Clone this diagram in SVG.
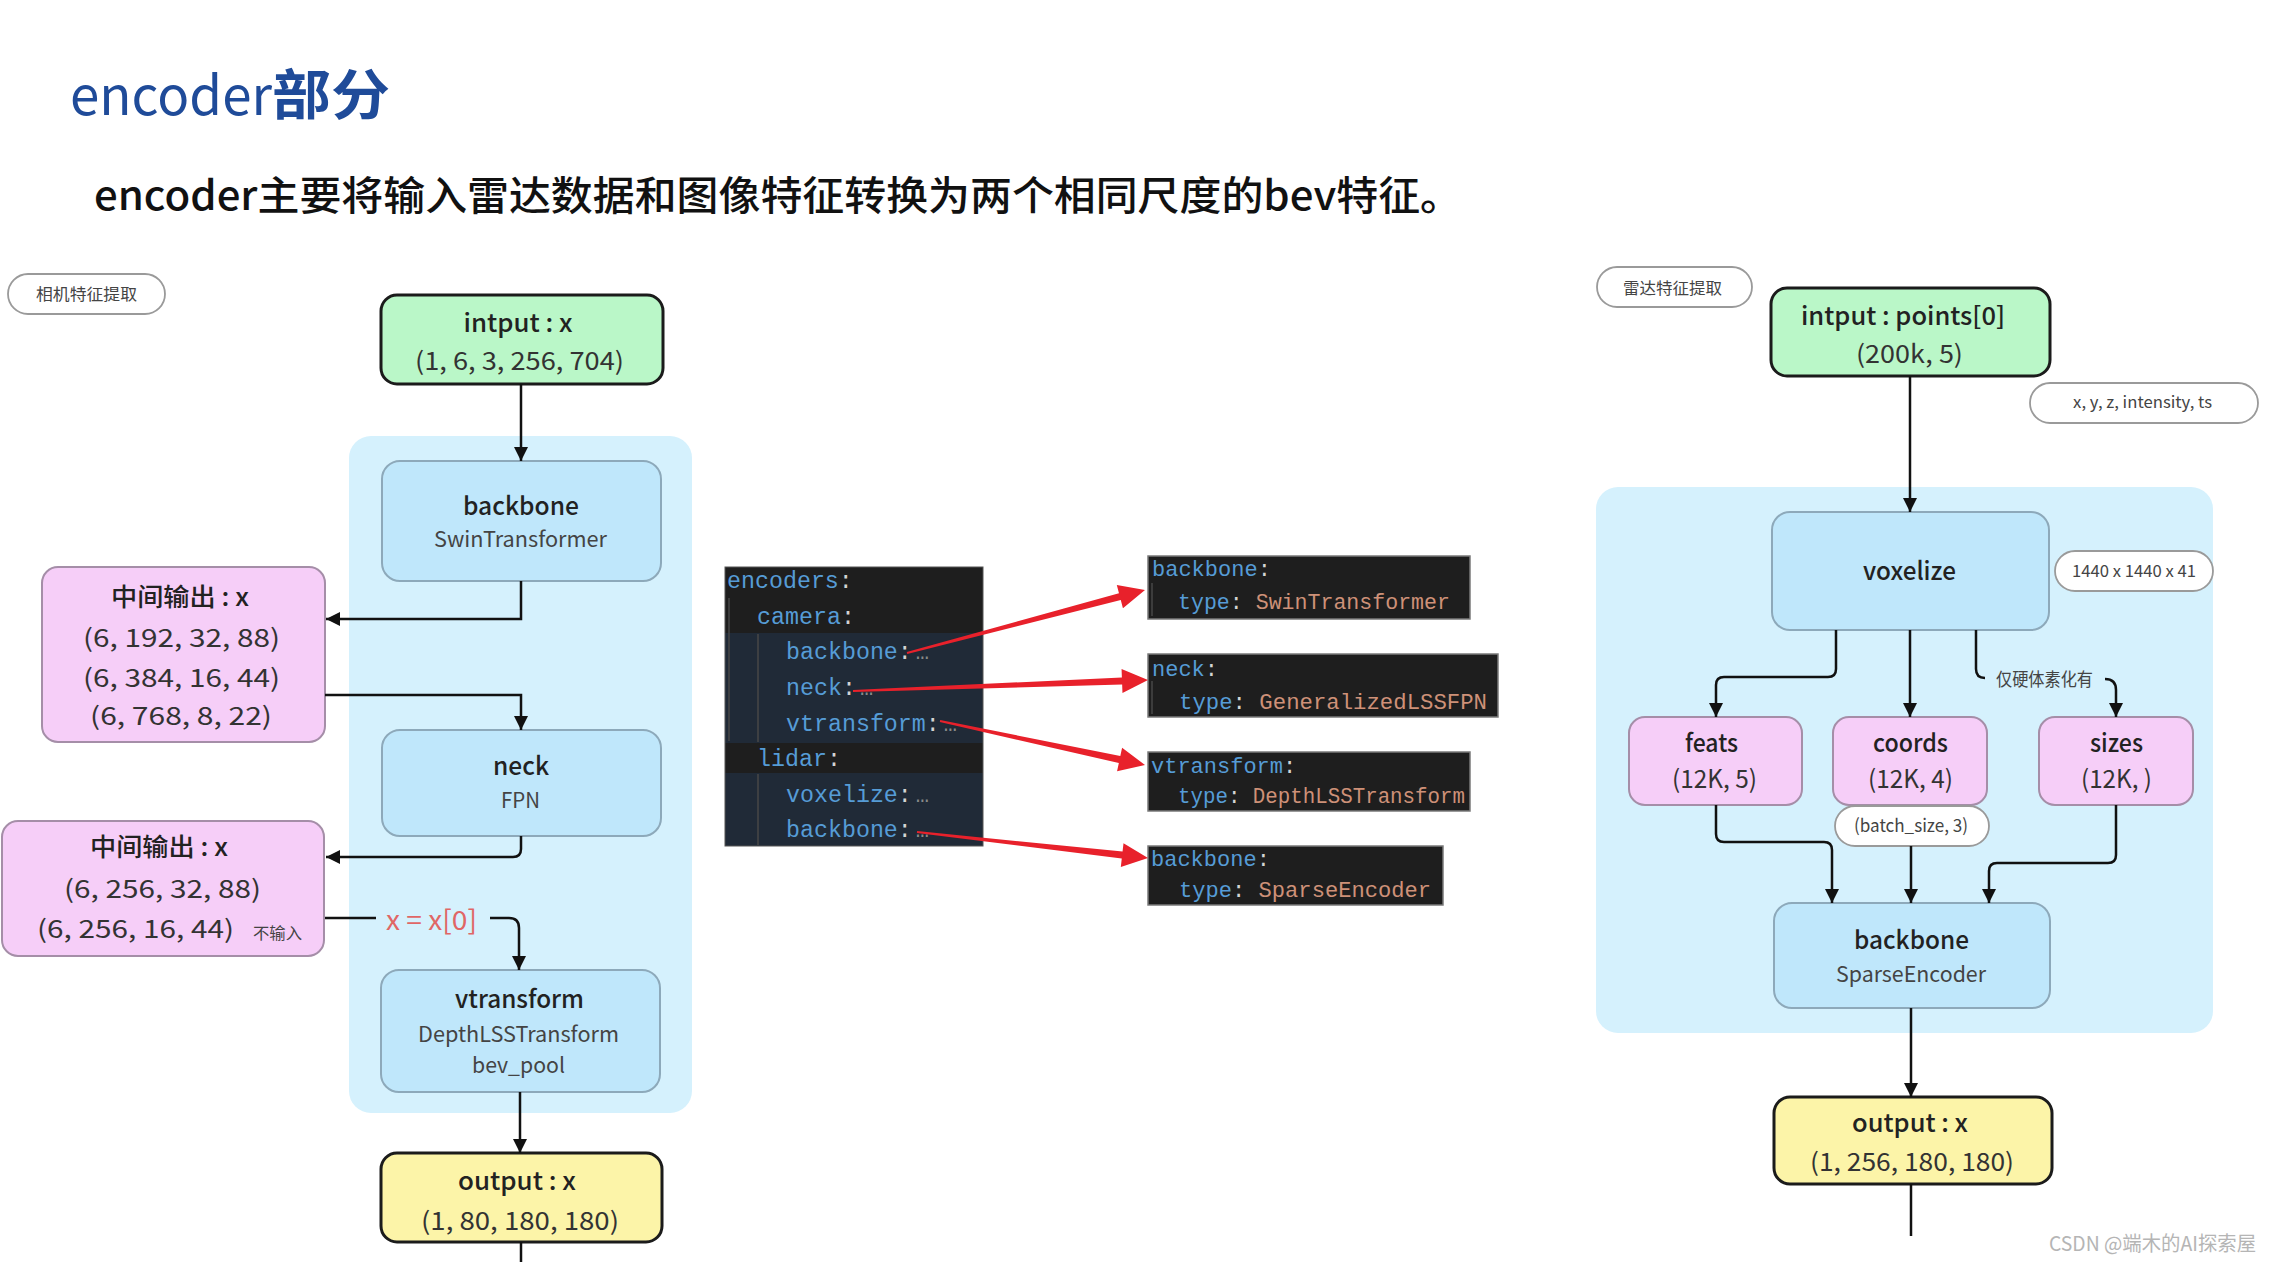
<svg xmlns="http://www.w3.org/2000/svg" width="2270" height="1262" viewBox="0 0 2270 1262">
<style>
.t{font-family:"Noto Sans CJK SC","Noto Sans",sans-serif}
.bg{fill:#d5f1fd}
.blue{fill:#bfe7fb;stroke:#8da9ba;stroke-width:2}
.pink{fill:#f6cef8;stroke:#a58ea8;stroke-width:2}
.green{fill:#baf7c8;stroke:#1b1b1b;stroke-width:3}
.yellow{fill:#fcf4a8;stroke:#1b1b1b;stroke-width:3}
.pill{fill:#fff;stroke:#9a9a9a;stroke-width:1.8}
.conn{fill:none;stroke:#111;stroke-width:2.5}
.hd{font-size:25px;font-weight:500;fill:#222}
.sub{font-size:21px;fill:#444}
.tp{font-size:25px;fill:#333}
.pl{font-size:16px;fill:#444}
.code{font-family:"Liberation Mono","DejaVu Sans Mono",monospace}
.k{fill:#569cd6}.c{fill:#d4d4d4}.v{fill:#ce9178}.e{fill:#8a8a8a}
.red{fill:#e8212b}
.guide{stroke:#474747;stroke-width:1.5}
</style>
<defs>
<marker id="ah" viewBox="0 0 10 10" refX="10" refY="5" markerWidth="14" markerHeight="14" markerUnits="userSpaceOnUse" orient="auto">
<path d="M0,0 L10,5 L0,10 z" fill="#111"/>
</marker>
</defs>
<rect width="2270" height="1262" fill="#fff"/>

<!-- titles -->
<text class="t" x="70" y="115" font-size="54" fill="#1f4b99"><tspan textLength="202" lengthAdjust="spacingAndGlyphs">encoder</tspan><tspan font-weight="bold" textLength="118" lengthAdjust="spacingAndGlyphs">部分</tspan></text>
<text class="t" x="94" y="210" font-size="40" font-weight="500" fill="#111" textLength="1368" lengthAdjust="spacingAndGlyphs">encoder主要将输入雷达数据和图像特征转换为两个相同尺度的bev特征。</text>

<!-- backgrounds -->
<rect class="bg" x="349" y="436" width="343" height="677" rx="22"/>
<rect class="bg" x="1596" y="487" width="617" height="546" rx="22"/>

<!-- left diagram nodes -->
<g id="cam-label">
<rect class="pill" x="8" y="274" width="157" height="40" rx="20"/>
<text class="t pl" x="86.5" y="300" text-anchor="middle" textLength="101" lengthAdjust="spacingAndGlyphs">相机特征提取</text>
</g>
<g id="cam-input">
<rect class="green" x="381" y="295" width="282" height="89" rx="16"/>
<text class="t hd" x="518" y="332" text-anchor="middle" textLength="109" lengthAdjust="spacingAndGlyphs">intput : x</text>
<text class="t tp" x="519.5" y="370" text-anchor="middle" textLength="209" lengthAdjust="spacingAndGlyphs">(1, 6, 3, 256, 704)</text>
</g>
<g id="cam-backbone">
<rect class="blue" x="382" y="461" width="279" height="120" rx="18"/>
<text class="t hd" x="521" y="515" text-anchor="middle" textLength="116" lengthAdjust="spacingAndGlyphs">backbone</text>
<text class="t sub" x="520.5" y="547" text-anchor="middle" textLength="173" lengthAdjust="spacingAndGlyphs">SwinTransformer</text>
</g>
<g id="mid-out-1">
<rect class="pink" x="42" y="567" width="283" height="175" rx="16"/>
<text class="t hd" x="180" y="606" text-anchor="middle" textLength="138" lengthAdjust="spacingAndGlyphs">中间输出 : x</text>
<text class="t tp" x="181.5" y="647" text-anchor="middle" textLength="197" lengthAdjust="spacingAndGlyphs">(6, 192, 32, 88)</text>
<text class="t tp" x="181.5" y="687" text-anchor="middle" textLength="197" lengthAdjust="spacingAndGlyphs">(6, 384, 16, 44)</text>
<text class="t tp" x="181" y="725" text-anchor="middle" textLength="182" lengthAdjust="spacingAndGlyphs">(6, 768, 8, 22)</text>
</g>
<g id="cam-neck">
<rect class="blue" x="382" y="730" width="279" height="106" rx="18"/>
<text class="t hd" x="521" y="775" text-anchor="middle" textLength="56" lengthAdjust="spacingAndGlyphs">neck</text>
<text class="t sub" x="520.5" y="808" text-anchor="middle" textLength="39" lengthAdjust="spacingAndGlyphs">FPN</text>
</g>
<g id="mid-out-2">
<rect class="pink" x="2" y="821" width="322" height="135" rx="16"/>
<text class="t hd" x="159" y="856" text-anchor="middle" textLength="138" lengthAdjust="spacingAndGlyphs">中间输出 : x</text>
<text class="t tp" x="162.5" y="898" text-anchor="middle" textLength="197" lengthAdjust="spacingAndGlyphs">(6, 256, 32, 88)</text>
<text class="t tp" x="37" y="938" textLength="197" lengthAdjust="spacingAndGlyphs">(6, 256, 16, 44)</text>
<text class="t" x="253" y="939" font-size="16" fill="#444" textLength="49" lengthAdjust="spacingAndGlyphs">不输入</text>
</g>
<g id="cam-vtransform">
<rect class="blue" x="381" y="970" width="279" height="122" rx="18"/>
<text class="t hd" x="519.5" y="1008" text-anchor="middle" textLength="129" lengthAdjust="spacingAndGlyphs">vtransform</text>
<text class="t sub" x="518.5" y="1042" text-anchor="middle" textLength="201" lengthAdjust="spacingAndGlyphs">DepthLSSTransform</text>
<text class="t sub" x="518.5" y="1073" text-anchor="middle" textLength="93" lengthAdjust="spacingAndGlyphs">bev_pool</text>
</g>
<g id="cam-output">
<rect class="yellow" x="381" y="1153" width="281" height="89" rx="16"/>
<text class="t hd" x="517" y="1190" text-anchor="middle" textLength="118" lengthAdjust="spacingAndGlyphs">output : x</text>
<text class="t tp" x="520" y="1230" text-anchor="middle" textLength="198" lengthAdjust="spacingAndGlyphs">(1, 80, 180, 180)</text>
</g>

<!-- code: encoders config -->
<g id="code-encoders" class="code">
<rect x="725" y="567" width="258" height="66" fill="#1e1e1e"/>
<rect x="725" y="633" width="258" height="110" fill="#202a37"/>
<rect x="725" y="743" width="258" height="30" fill="#1e1e1e"/>
<rect x="725" y="773" width="258" height="73" fill="#202a37"/>
<rect x="725" y="567" width="258" height="279" fill="none" stroke="#555" stroke-width="1"/>
<line class="guide" x1="729" y1="598" x2="729" y2="741"/>
<line class="guide" x1="758" y1="634" x2="758" y2="742"/>
<line class="guide" x1="758" y1="774" x2="758" y2="845"/>
<text x="727" y="588" font-size="23.3"><tspan class="k">encoders</tspan><tspan class="c">:</tspan></text>
<text x="757" y="624" font-size="23.3"><tspan class="k">camera</tspan><tspan class="c">:</tspan></text>
<text x="786" y="659" font-size="23.3"><tspan class="k">backbone</tspan><tspan class="c">:</tspan><tspan class="e" dx="4" font-size="22">…</tspan></text>
<text x="786" y="695" font-size="23.3"><tspan class="k">neck</tspan><tspan class="c">:</tspan><tspan class="e" dx="4" font-size="22">…</tspan></text>
<text x="786" y="731" font-size="23.3"><tspan class="k">vtransform</tspan><tspan class="c">:</tspan><tspan class="e" dx="4" font-size="22">…</tspan></text>
<text x="757" y="766" font-size="23.3"><tspan class="k">lidar</tspan><tspan class="c">:</tspan></text>
<text x="786" y="802" font-size="23.3"><tspan class="k">voxelize</tspan><tspan class="c">:</tspan><tspan class="e" dx="4" font-size="22">…</tspan></text>
<text x="786" y="837" font-size="23.3"><tspan class="k">backbone</tspan><tspan class="c">:</tspan><tspan class="e" dx="4" font-size="22">…</tspan></text>
</g>
<g id="code-backbone" class="code">
<rect x="1148" y="556" width="322" height="63" fill="#1e1e1e" stroke="#7a7a7a" stroke-width="1.5"/>
<line class="guide" x1="1152" y1="583" x2="1152" y2="616"/>
<text x="1152" y="576" font-size="22"><tspan class="k">backbone</tspan><tspan class="c">:</tspan></text>
<text x="1178" y="609" font-size="22" textLength="272" lengthAdjust="spacingAndGlyphs"><tspan class="k">type</tspan><tspan class="c">: </tspan><tspan class="v">SwinTransformer</tspan></text>
</g>
<g id="code-neck" class="code">
<rect x="1148" y="654" width="350" height="63" fill="#1e1e1e" stroke="#7a7a7a" stroke-width="1.5"/>
<line class="guide" x1="1152" y1="681" x2="1152" y2="714"/>
<text x="1152" y="676" font-size="22"><tspan class="k">neck</tspan><tspan class="c">:</tspan></text>
<text x="1179" y="709" font-size="22" textLength="308" lengthAdjust="spacingAndGlyphs"><tspan class="k">type</tspan><tspan class="c">: </tspan><tspan class="v">GeneralizedLSSFPN</tspan></text>
</g>
<g id="code-vtransform" class="code">
<rect x="1148" y="752" width="322" height="59" fill="#1e1e1e" stroke="#7a7a7a" stroke-width="1.5"/>
<text x="1151" y="773" font-size="22"><tspan class="k">vtransform</tspan><tspan class="c">:</tspan></text>
<text x="1178" y="803" font-size="22" textLength="287" lengthAdjust="spacingAndGlyphs"><tspan class="k">type</tspan><tspan class="c">: </tspan><tspan class="v">DepthLSSTransform</tspan></text>
</g>
<g id="code-lidar-backbone" class="code">
<rect x="1148" y="846" width="295" height="59" fill="#1e1e1e" stroke="#7a7a7a" stroke-width="1.5"/>
<text x="1151" y="866" font-size="22"><tspan class="k">backbone</tspan><tspan class="c">:</tspan></text>
<text x="1179" y="897" font-size="22" textLength="252" lengthAdjust="spacingAndGlyphs"><tspan class="k">type</tspan><tspan class="c">: </tspan><tspan class="v">SparseEncoder</tspan></text>
</g>

<!-- right diagram nodes -->
<g id="lidar-label">
<rect class="pill" x="1597" y="267" width="155" height="40" rx="20"/>
<text class="t pl" x="1672.5" y="294" text-anchor="middle" textLength="99" lengthAdjust="spacingAndGlyphs">雷达特征提取</text>
</g>
<g id="lidar-input">
<rect class="green" x="1771" y="288" width="279" height="88" rx="16"/>
<text class="t hd" x="1903" y="325" font-size="27" text-anchor="middle" textLength="204" lengthAdjust="spacingAndGlyphs">intput : points[0]</text>
<text class="t tp" x="1909.5" y="363" font-size="27" text-anchor="middle" textLength="107" lengthAdjust="spacingAndGlyphs">(200k, 5)</text>
</g>
<g id="points-note">
<rect class="pill" x="2030" y="383" width="228" height="40" rx="20"/>
<text class="t pl" x="2142.5" y="408" text-anchor="middle" textLength="139" lengthAdjust="spacingAndGlyphs">x, y, z, intensity, ts</text>
</g>
<g id="voxelize">
<rect class="blue" x="1772" y="512" width="277" height="118" rx="18"/>
<text class="t hd" x="1909.5" y="580" font-size="27" text-anchor="middle" textLength="93" lengthAdjust="spacingAndGlyphs">voxelize</text>
</g>
<g id="voxel-note">
<rect class="pill" x="2055" y="551" width="158" height="40" rx="20"/>
<text class="t pl" x="2134" y="577" text-anchor="middle" textLength="124" lengthAdjust="spacingAndGlyphs">1440 x 1440 x 41</text>
</g>
<g id="feats">
<rect class="pink" x="1629" y="717" width="173" height="88" rx="16"/>
<text class="t hd" x="1711.5" y="752" text-anchor="middle" textLength="53" lengthAdjust="spacingAndGlyphs">feats</text>
<text class="t tp" x="1714.5" y="788" text-anchor="middle" textLength="85" lengthAdjust="spacingAndGlyphs">(12K, 5)</text>
</g>
<g id="coords">
<rect class="pink" x="1833" y="717" width="154" height="88" rx="16"/>
<text class="t hd" x="1910.5" y="752" text-anchor="middle" textLength="75" lengthAdjust="spacingAndGlyphs">coords</text>
<text class="t tp" x="1910.5" y="788" text-anchor="middle" textLength="85" lengthAdjust="spacingAndGlyphs">(12K, 4)</text>
</g>
<g id="coords-note">
<rect class="pill" x="1835" y="806" width="154" height="40" rx="20"/>
<text class="t" x="1911" y="832" font-size="18" fill="#444" text-anchor="middle" textLength="114" lengthAdjust="spacingAndGlyphs">(batch_size, 3)</text>
</g>
<g id="sizes">
<rect class="pink" x="2039" y="717" width="154" height="88" rx="16"/>
<text class="t hd" x="2116.5" y="752" text-anchor="middle" textLength="53" lengthAdjust="spacingAndGlyphs">sizes</text>
<text class="t tp" x="2116.5" y="788" text-anchor="middle" textLength="71" lengthAdjust="spacingAndGlyphs">(12K, )</text>
</g>
<g id="lidar-backbone">
<rect class="blue" x="1774" y="903" width="276" height="105" rx="18"/>
<text class="t hd" x="1911.5" y="949" text-anchor="middle" textLength="115" lengthAdjust="spacingAndGlyphs">backbone</text>
<text class="t sub" x="1911" y="982" text-anchor="middle" textLength="150" lengthAdjust="spacingAndGlyphs">SparseEncoder</text>
</g>
<g id="lidar-output">
<rect class="yellow" x="1774" y="1097" width="278" height="87" rx="16"/>
<text class="t hd" x="1910" y="1132" text-anchor="middle" textLength="116" lengthAdjust="spacingAndGlyphs">output : x</text>
<text class="t tp" x="1912" y="1171" text-anchor="middle" textLength="204" lengthAdjust="spacingAndGlyphs">(1, 256, 180, 180)</text>
</g>

<!-- connectors -->
<g id="connectors">
<path class="conn" d="M521,384 V461" marker-end="url(#ah)"/>
<path class="conn" d="M521,581 V619 H326" marker-end="url(#ah)"/>
<path class="conn" d="M325,695 H521 V730" marker-end="url(#ah)"/>
<path class="conn" d="M521,836 V849 Q521,857 513,857 H326" marker-end="url(#ah)"/>
<path class="conn" d="M325,918 H376"/>
<text class="t" x="386" y="930" font-size="27" fill="#e06666" textLength="91" lengthAdjust="spacingAndGlyphs">x = x[0]</text>
<path class="conn" d="M490,918 H509 Q519,918 519,928 V970" marker-end="url(#ah)"/>
<path class="conn" d="M520,1092 V1153" marker-end="url(#ah)"/>
<path class="conn" d="M521,1242 V1262"/>

<polygon class="red" points="907.26,653.97 1120.77,600.03 1122.94,608.25 1145,590 1116.80,585.05 1118.97,593.27 906.74,652.03"/>
<polygon class="red" points="853.04,692.00 1122.15,684.47 1122.47,692.96 1148,680 1121.57,668.98 1121.89,677.47 852.96,690.00"/>
<polygon class="red" points="939.79,721.98 1118.85,762.96 1117.06,771.27 1145,765 1122.10,747.81 1120.31,756.12 940.21,720.02"/>
<polygon class="red" points="916.89,832.99 1121.77,858.57 1120.82,867.01 1148,858 1123.50,843.17 1122.55,851.61 917.11,831.01"/>

<path class="conn" d="M1910,376 V512" marker-end="url(#ah)"/>
<path class="conn" d="M1836,630 V669 Q1836,677 1828,677 H1724 Q1716,677 1716,685 V717" marker-end="url(#ah)"/>
<path class="conn" d="M1910,630 V717" marker-end="url(#ah)"/>
<path class="conn" d="M1976,630 V669 Q1976,678 1985,678"/>
<text class="t" x="1996" y="686" font-size="18" fill="#444" textLength="97" lengthAdjust="spacingAndGlyphs">仅硬体素化有</text>
<path class="conn" d="M2105,679 Q2116,679 2116,690 V717" marker-end="url(#ah)"/>
<path class="conn" d="M1716,805 V834 Q1716,842 1724,842 H1824 Q1832,842 1832,850 V903" marker-end="url(#ah)"/>
<path class="conn" d="M1911,846 V903" marker-end="url(#ah)"/>
<path class="conn" d="M2116,805 V855 Q2116,863 2108,863 H1997 Q1989,863 1989,871 V903" marker-end="url(#ah)"/>
<path class="conn" d="M1911,1008 V1097" marker-end="url(#ah)"/>
<path class="conn" d="M1911,1184 V1236"/>
</g>

<text class="t" x="2049" y="1251" font-size="20" fill="#b5b5b5" textLength="207" lengthAdjust="spacingAndGlyphs">CSDN @端木的AI探索屋</text>
</svg>
